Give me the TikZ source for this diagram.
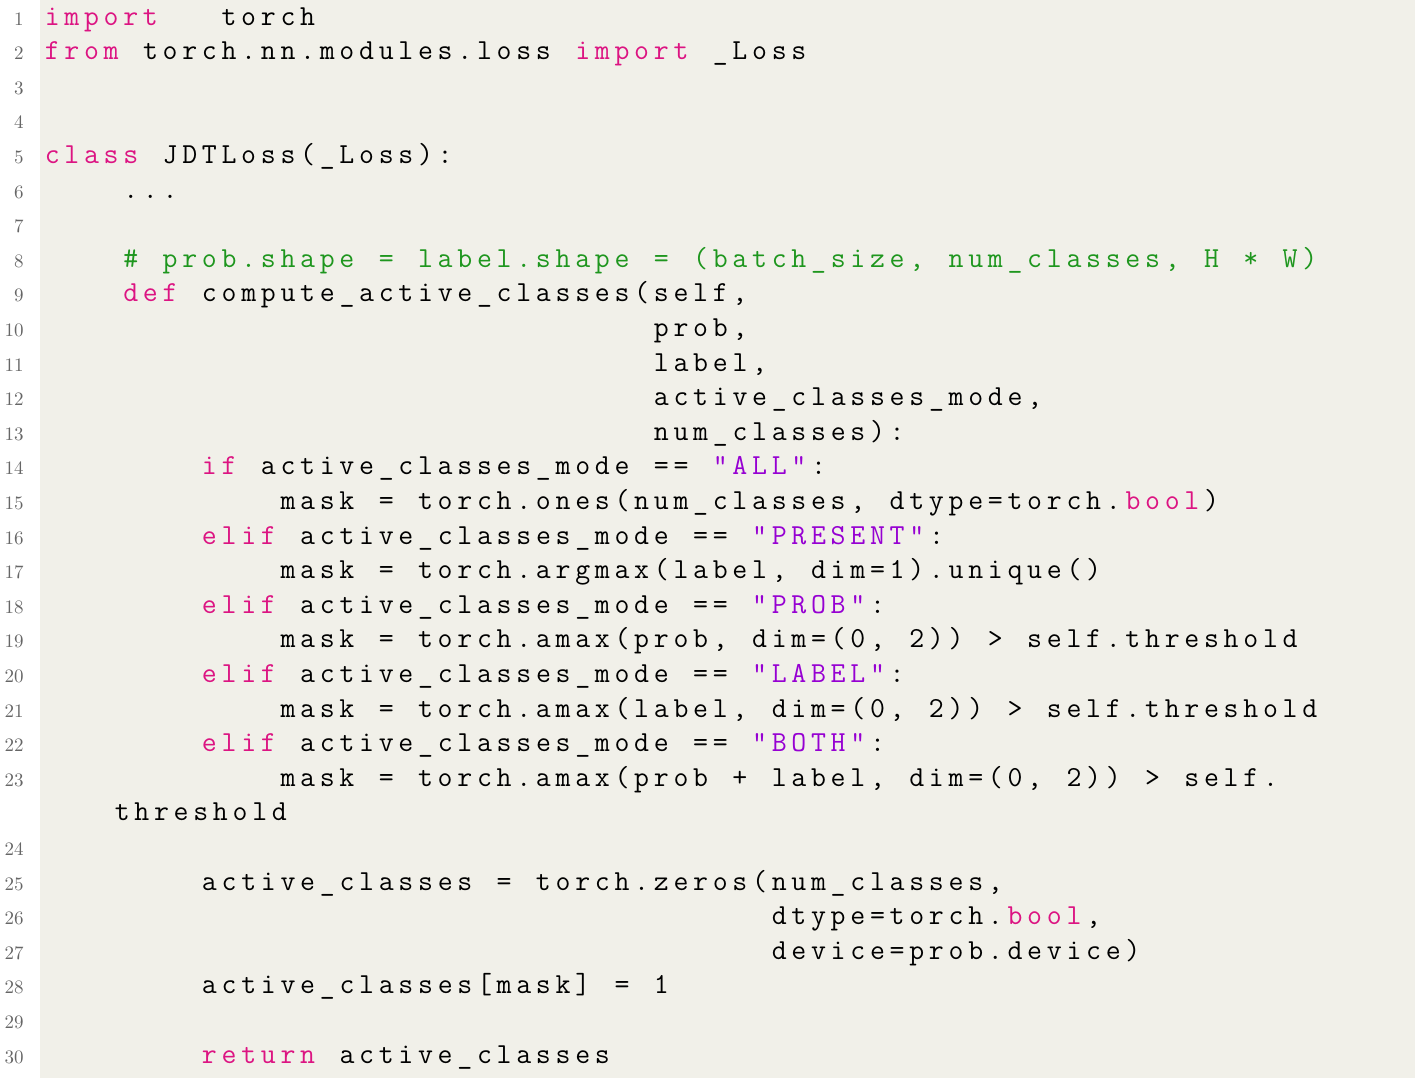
\documentclass[tikz,border=0pt]{standalone}
\usepackage{xcolor}
\definecolor{kw}{RGB}{220,20,130}
\definecolor{cm}{RGB}{30,150,30}
\definecolor{st}{RGB}{150,0,210}
\definecolor{bg}{RGB}{241,240,233}
\ExplSyntaxOn
\NewDocumentCommand\T{m}{\tl_map_inline:nn{#1}{\makebox[9.825pt][c]{##1}}}
\ExplSyntaxOff
\newcommand\K[1]{{\color{kw}\T{#1}}}
\newcommand\Cm[1]{{\color{cm}\T{#1}}}
\newcommand\St[1]{{\color{st}\T{#1}}}
\tikzset{code/.style={anchor=base west,inner sep=0pt,font=\fontsize{14.5}{14.5}\selectfont\ttfamily},
num/.style={anchor=base east,inner sep=0pt,text=black!60,font=\fontsize{9.5}{9.5}\selectfont}}
\newcommand\CL[3]{%
\pgfmathsetmacro\yy{25+(#1-1)*34.6+(#1>23)*34.6}%
\node[num] (n#1) at (24,\yy) {#1};
\node[code] (c#1) at ({42+#2*19.65},\yy) {#3};}
\begin{document}
\begin{tikzpicture}[x=0.5pt,y=-0.5pt]
\useasboundingbox (0,0) rectangle (1415,1078);
\fill[bg] (40,0) rectangle (1415,1078);
\CL{1}{0}{\K{import}\T{~~~torch}}
\CL{2}{0}{\K{from}\T{~torch.nn.modules.loss~}\K{import}\T{~\_Loss}}
\CL{3}{0}{}
\CL{4}{0}{}
\CL{5}{0}{\K{class}\T{~JDTLoss(\_Loss):}}
\CL{6}{4}{\T{...}}
\CL{7}{0}{}
\CL{8}{4}{\Cm{\#~prob.shape~=~label.shape~=~(batch\_size,~num\_classes,~H~*~W)}}
\CL{9}{4}{\K{def}\T{~compute\_active\_classes(self,}}
\CL{10}{31}{\T{prob,}}
\CL{11}{31}{\T{label,}}
\CL{12}{31}{\T{active\_classes\_mode,}}
\CL{13}{31}{\T{num\_classes):}}
\CL{14}{8}{\K{if}\T{~active\_classes\_mode~==~}\St{"ALL"}\T{:}}
\CL{15}{12}{\T{mask~=~torch.ones(num\_classes,~dtype=torch.}\K{bool}\T{)}}
\CL{16}{8}{\K{elif}\T{~active\_classes\_mode~==~}\St{"PRESENT"}\T{:}}
\CL{17}{12}{\T{mask~=~torch.argmax(label,~dim=1).unique()}}
\CL{18}{8}{\K{elif}\T{~active\_classes\_mode~==~}\St{"PROB"}\T{:}}
\CL{19}{12}{\T{mask~=~torch.amax(prob,~dim=(0,~2))~>~self.threshold}}
\CL{20}{8}{\K{elif}\T{~active\_classes\_mode~==~}\St{"LABEL"}\T{:}}
\CL{21}{12}{\T{mask~=~torch.amax(label,~dim=(0,~2))~>~self.threshold}}
\CL{22}{8}{\K{elif}\T{~active\_classes\_mode~==~}\St{"BOTH"}\T{:}}
\CL{23}{12}{\T{mask~=~torch.amax(prob~+~label,~dim=(0,~2))~>~self.}}
\node[code] (wrap) at (112,{25+22*34.6+34.6}) {\T{threshold}};
\CL{24}{0}{}
\CL{25}{8}{\T{active\_classes~=~torch.zeros(num\_classes,}}
\CL{26}{37}{\T{dtype=torch.}\K{bool}\T{,}}
\CL{27}{37}{\T{device=prob.device)}}
\CL{28}{8}{\T{active\_classes[mask]~=~1}}
\CL{29}{0}{}
\CL{30}{8}{\K{return}\T{~active\_classes}}
\end{tikzpicture}
\end{document}
